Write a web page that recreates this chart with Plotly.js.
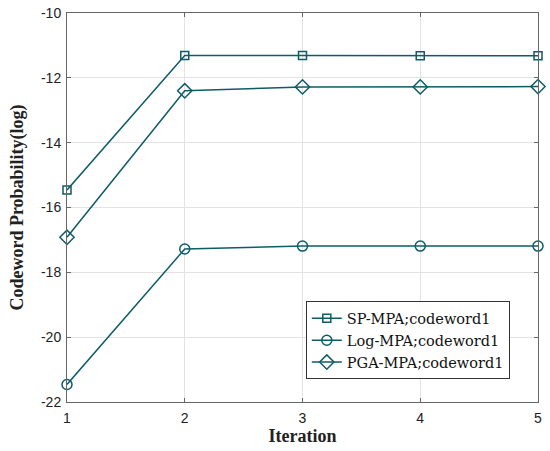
<!DOCTYPE html>
<html><head><meta charset="utf-8">
<script src="https://cdn.plot.ly/plotly-3.0.1.min.js"></script>
<style>html,body{margin:0;padding:0;background:#fff}#chart{width:550px;height:451px}</style>
</head><body><div id="chart"></div>
<script>
const iterations = [1, 2, 3, 4, 5];
const spMPA = [-15.46, -11.31, -11.31, -11.32, -11.32];
const logMPA = [-21.46, -17.28, -17.19, -17.19, -17.19];
const pgaMPA = [-16.92, -12.40, -12.28, -12.28, -12.27];
const seriesNames = ['SP-MPA;codeword1', 'Log-MPA;codeword1', 'PGA-MPA;codeword1'];
const xTickLabels = ['1', '2', '3', '4', '5'];
const yTickVals = [-22, -20, -18, -16, -14, -12, -10];
const yTickLabels = ['-22', '-20', '-18', '-16', '-14', '-12', '-10'];
const color = '#0f5c66';

function tr(y, name, symbol, size) {
  return {x: iterations, y: y, name: name, type: 'scatter', mode: 'lines+markers',
    line: {color: color, width: 1.5},
    marker: {symbol: symbol, size: size, color: color, line: {color: color, width: 1.5}},
    cliponaxis: false};
}
const data = [
  tr(spMPA, seriesNames[0], 'square-open', 8),
  tr(logMPA, seriesNames[1], 'circle-open', 10),
  tr(pgaMPA, seriesNames[2], 'diamond-open', 11)
];
const axisCommon = {showline: true, mirror: 'ticks', linecolor: '#666', linewidth: 1,
  ticks: 'inside', ticklen: 4, tickcolor: '#666', showgrid: true, gridcolor: '#e3e3e3',
  zeroline: false, tickfont: {family: 'Liberation Sans, Arial, sans-serif', size: 14, color: '#222'}};
const titleFont = {family: 'Liberation Serif, DejaVu Serif, serif', size: 18, color: '#222'};
const layout = {
  width: 550, height: 451,
  margin: {l: 67, r: 12, t: 13, b: 49},
  paper_bgcolor: '#fff', plot_bgcolor: '#fff',
  showlegend: true,
  xaxis: Object.assign({}, axisCommon, {range: [1, 5], tickvals: iterations, ticktext: xTickLabels,
    ticklabelstandoff: 3,
    title: {text: '<b>Iteration</b>', font: titleFont, standoff: 4}}),
  yaxis: Object.assign({}, axisCommon, {range: [-22, -10], tickvals: yTickVals, ticktext: yTickLabels,
    ticklabelstandoff: 2,
    title: {text: '<b>Codeword Probability(log)</b>', font: titleFont, standoff: 12}}),
  legend: {x: 0.507, y: 0.058, xanchor: 'left', yanchor: 'bottom', bgcolor: '#fff',
    bordercolor: '#333', borderwidth: 1, tracegroupgap: 0,
    font: {family: 'DejaVu Serif, Liberation Serif, serif', size: 14.5, color: '#111'}}
};
Plotly.newPlot('chart', data, layout, {displayModeBar: false, staticPlot: true});
</script></body></html>
